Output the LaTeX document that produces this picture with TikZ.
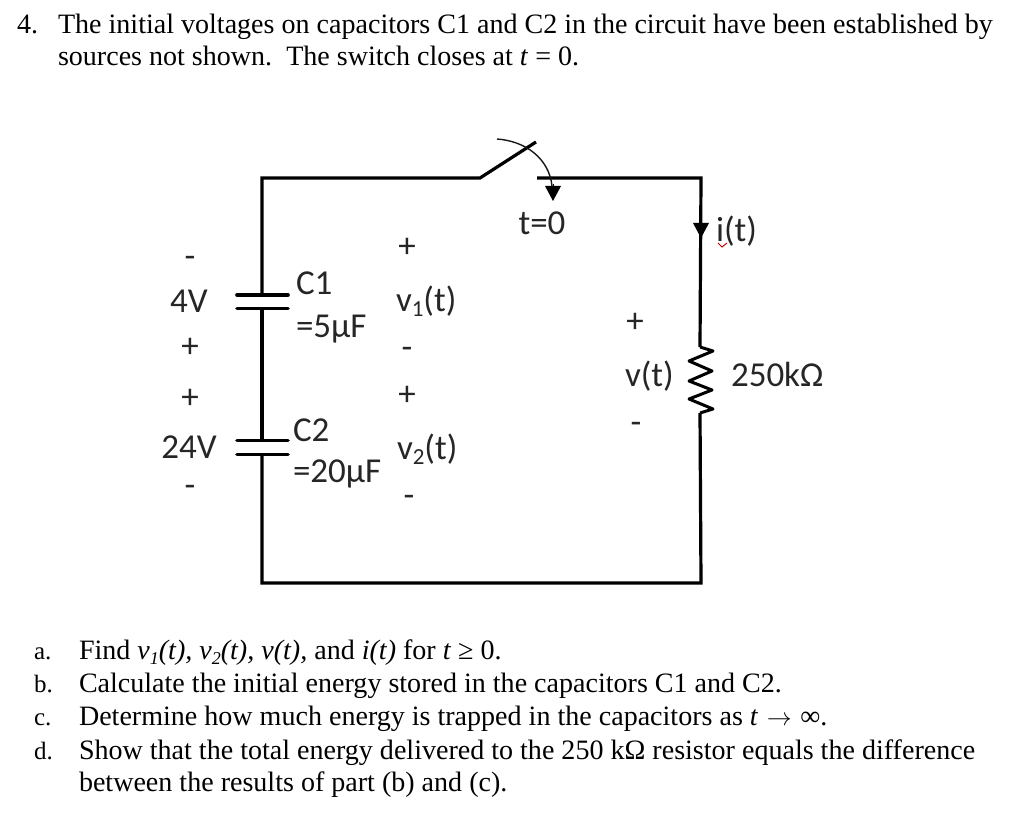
\documentclass[tikz,border=0pt]{standalone}
\usepackage{fontspec}
\setmainfont{Liberation Serif}
\newfontfamily\circfont{Carlito}
\usetikzlibrary{arrows.meta}
\newcommand{\subsc}[1]{\raisebox{-0.2em}{\fontsize{18}{18}\selectfont #1}}
\newcommand{\csub}[1]{\raisebox{-0.17em}{\fontsize{23}{23}\selectfont #1}}
\tikzset{
  prose/.style={anchor=base west,inner sep=0pt,outer sep=0pt,font=\fontsize{28.05}{28}\selectfont,text=black},
  marker/.style={prose,font=\fontsize{25}{25}\selectfont},
  lab/.style={anchor=base,inner sep=0pt,outer sep=0pt,font=\circfont\fontsize{35}{35}\selectfont,text=black!85},
  labw/.style={lab,anchor=base west},
  wire/.style={line width=3.2pt,line cap=butt,line join=miter,black},
  plate/.style={line width=3.6pt,line cap=round,black},
  res/.style={line width=3pt,line join=round,black},
  tipped/.style={-{Triangle[width=16pt,length=15pt]}}
}
\begin{document}
\begin{tikzpicture}[x=1pt,y=-1pt]
\useasboundingbox (0,0) rectangle (1024,826);
\fill[white] (0,0) rectangle (1024,826);
% prose
\node[prose] (n4) at (17,34) {4.};
\node[prose] (l1) at (58,34) {The initial voltages on capacitors C1 and C2 in the circuit have been established by};
\node[prose] (l2) at (58,66) {sources not shown.\ \ The switch closes at \textit{t} = 0.};
\node[marker] (ma) at (34,659) {a.};
\node[prose] (ta) at (79,659) {Find \textit{v\subsc{1}(t), v\subsc{2}(t), v(t),} and \textit{i(t)} for \textit{t} ≥ 0.};
\node[marker] (mb) at (34,692) {b.};
\node[prose] (tb) at (79,692) {Calculate the initial energy stored in the capacitors C1 and C2.};
\node[marker] (mc) at (34,725) {c.};
\node[prose] (tc) at (79,725) {Determine how much energy is trapped in the capacitors as \textit{t} \makebox[1em]{$\rightarrow$} ∞.};
\node[marker] (md) at (34,759) {d.};
\node[prose] (td) at (79,759) {Show that the total energy delivered to the 250 kΩ resistor equals the difference};
\node[prose] (te) at (79,791) {between the results of part (b) and (c).};
% circuit points
\coordinate (tl) at (262,178);
\coordinate (swa) at (480,178);
\coordinate (swb) at (536,142);
\coordinate (swc) at (537,178);
\coordinate (tr) at (701,178);
\coordinate (br) at (701,583);
\coordinate (bl) at (262,583);
\coordinate (c1a) at (262,295);
\coordinate (c1b) at (262,308);
\coordinate (c2a) at (262,440);
\coordinate (c2b) at (262,454);
\coordinate (ra) at (700,347);
\coordinate (rb) at (700,413);
\coordinate (iarrow) at (701,238);
\coordinate (swstart) at (497,139);
\coordinate (swend) at (553,201);
% wires
\draw[wire] (c1a) -- (tl) -- (swa) -- (swb);
\draw[wire] (swc) -- (tr) -- (ra);
\draw[wire] (rb) -- (br) -- (bl) -- (c2b);
\draw[wire] (c1b) -- (c2a);
\draw[plate] (237,295) -- (288,295);
\draw[plate] (237,308.5) -- (288,308.5);
\draw[plate] (237,440.5) -- (288,440.5);
\draw[plate] (237,454.5) -- (288,454.5);
% resistor
\draw[res] (ra) -- (713,351) -- (689,361) -- (712,371) -- (689,381) -- (712,390) -- (689,399) -- (713,409) -- (rb);
% arrows
\draw[tipped,line width=0pt,black] (701,222) -- (iarrow);
\draw[line width=1.4pt,black!90] (swstart) .. controls (525,141) and (549,158) .. (552,186);
\draw[tipped,line width=0pt,black] (553,185) -- (swend);
% labels
\node[lab] (t0) at (542,234) {t=0};
\node[labw] (it) at (716,241) {i(t)};
\draw[red!80!black,line width=1pt] (718,243) -- (722,247) -- (727,243);
\node[lab] (p1) at (407,257) {+};
\node[lab] (m4) at (190,267) {-};
\node[lab] (v4) at (189,312) {4V};
\node[labw] (c1) at (296,294) {C1};
\node[labw] (c1v) at (296,337) {=5µF};
\node[labw] (v1) at (396,311) {v\csub{1}(t)};
\node[lab] (p4) at (190,357) {+};
\node[lab] (m1) at (407,358) {-};
\node[lab] (p2) at (190,408) {+};
\node[lab] (p3) at (407,405) {+};
\node[lab] (v24) at (189,458) {24V};
\node[labw] (c2) at (293,441) {C2};
\node[labw] (c2v) at (293,482) {=20µF};
\node[labw] (v2) at (397,459) {v\csub{2}(t)};
\node[lab] (m2) at (190,496) {-};
\node[lab] (m3) at (409,506) {-};
\node[lab] (pv) at (635,332) {+};
\node[labw] (vt) at (625,386) {v(t)};
\node[labw] (rv) at (731,386) {250kΩ};
\node[lab] (mv) at (636,433) {-};
\end{tikzpicture}
\end{document}
